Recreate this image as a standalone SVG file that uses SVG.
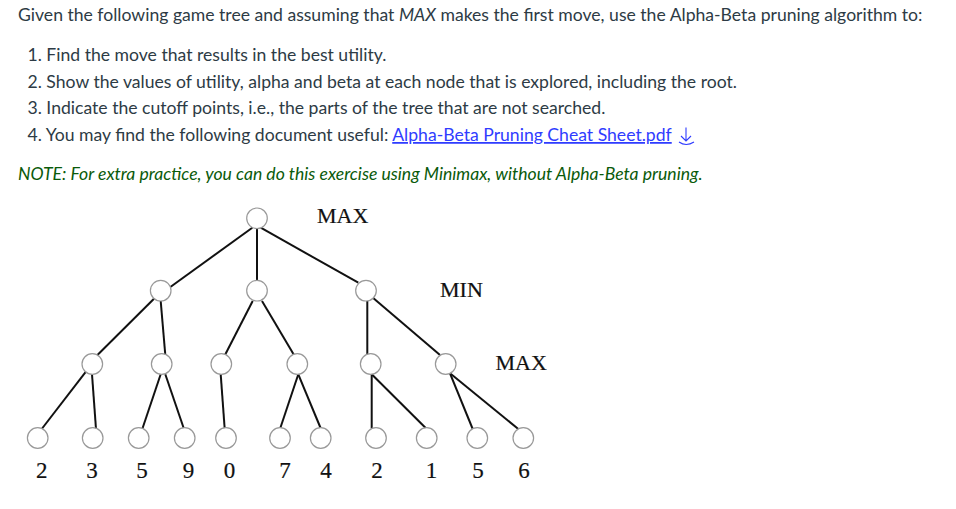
<svg xmlns="http://www.w3.org/2000/svg" width="956" height="509" viewBox="0 0 956 509">
<style>
.t{font-family:Lato,"Open Sans",sans-serif;font-size:17.6px;fill:#2d3b45}
.n{font-family:Lato,"Open Sans",sans-serif;font-size:17.6px;font-style:italic;fill:#0a5a0a}
.s{font-family:"Liberation Serif","Times New Roman",serif;font-size:22px;fill:#111;stroke:#111;stroke-width:.2}
.d{font-size:23px}
.m{text-anchor:middle}
.c line{stroke:#111;stroke-width:2}
.nd circle{fill:#fff;stroke:#999;stroke-width:1.2}
</style>
<rect width="956" height="509" fill="#fff"/>
<g id="prompt">
<text class="t" x="18" y="21">Given the following game tree and assuming that <tspan font-style="italic">MAX</tspan> makes the first move, use the Alpha-Beta pruning algorithm to:</text>
<text class="t" x="27.5" y="61">1. Find the move that results in the best utility.</text>
<text class="t" x="27.5" y="88">2. Show the values of utility, alpha and beta at each node that is explored, including the root.</text>
<text class="t" x="27.5" y="114">3. Indicate the cutoff points, i.e., the parts of the tree that are not searched.</text>
<text class="t" x="27.5" y="141">4. You may find the following document useful: <tspan fill="#2f3cff" text-decoration="underline">Alpha-Beta Pruning Cheat Sheet.pdf</tspan></text>
<path d="M686 127.500V141M681 136L686 141L691 136M679 142Q686 147 694 142" fill="none" stroke="#2f3cff" stroke-width="1.1"/>
<text class="n" x="18" y="180">NOTE: For extra practice, you can do this exercise using Minimax, without Alpha-Beta pruning.</text>
</g>
<g id="connectors" class="c">
<line x1="252.3" y1="227.7" x2="170" y2="287.3"/>
<line x1="257" y1="228.3" x2="257" y2="281.7"/>
<line x1="260.7" y1="227.7" x2="358.3" y2="282.7"/>
<line x1="156" y1="296.7" x2="96.7" y2="355.7"/>
<line x1="160.7" y1="301" x2="165.3" y2="355"/>
<line x1="252.7" y1="301" x2="225" y2="355"/>
<line x1="262" y1="301" x2="294" y2="355"/>
<line x1="367.3" y1="301" x2="367.3" y2="355"/>
<line x1="371.7" y1="296.7" x2="440" y2="355"/>
<line x1="86.7" y1="370.7" x2="41.7" y2="429"/>
<line x1="92" y1="374.3" x2="96" y2="429"/>
<line x1="160.7" y1="374.3" x2="142.3" y2="429"/>
<line x1="165.3" y1="374.3" x2="184" y2="429"/>
<line x1="220.7" y1="374.3" x2="224.7" y2="429"/>
<line x1="298.3" y1="374.3" x2="280" y2="429"/>
<line x1="298.3" y1="374.3" x2="321" y2="429"/>
<line x1="371.7" y1="374.3" x2="371.7" y2="428.3"/>
<line x1="371.7" y1="374.3" x2="426.7" y2="429"/>
<line x1="450" y1="373.3" x2="472.7" y2="429"/>
<line x1="450" y1="373.3" x2="518.3" y2="429"/>
</g>
<g id="root" class="nd"><circle cx="257" cy="218.3" r="10.3"/></g>
<g id="n1" class="nd"><circle cx="160.7" cy="290.7" r="10.3"/></g>
<g id="n2" class="nd"><circle cx="257" cy="290.7" r="10.3"/></g>
<g id="n3" class="nd"><circle cx="366" cy="290.7" r="10.3"/></g>
<g id="n11" class="nd"><circle cx="92.3" cy="364" r="10.3"/></g>
<g id="n12" class="nd"><circle cx="161.7" cy="364" r="10.3"/></g>
<g id="n21" class="nd"><circle cx="221.3" cy="364" r="10.3"/></g>
<g id="n22" class="nd"><circle cx="297.3" cy="364" r="10.3"/></g>
<g id="n31" class="nd"><circle cx="370.7" cy="364" r="10.3"/></g>
<g id="n32" class="nd"><circle cx="445.7" cy="364" r="10.3"/></g>
<g id="leaf1" class="nd"><circle cx="37.7" cy="438" r="10.3"/></g>
<g id="leaf2" class="nd"><circle cx="92.7" cy="438" r="10.3"/></g>
<g id="leaf3" class="nd"><circle cx="138.7" cy="438" r="10.3"/></g>
<g id="leaf4" class="nd"><circle cx="184.7" cy="438" r="10.3"/></g>
<g id="leaf5" class="nd"><circle cx="226" cy="438" r="10.3"/></g>
<g id="leaf6" class="nd"><circle cx="280" cy="438" r="10.3"/></g>
<g id="leaf7" class="nd"><circle cx="320.7" cy="438" r="10.3"/></g>
<g id="leaf8" class="nd"><circle cx="376" cy="438" r="10.3"/></g>
<g id="leaf9" class="nd"><circle cx="426.7" cy="438" r="10.3"/></g>
<g id="leaf10" class="nd"><circle cx="477.3" cy="438" r="10.3"/></g>
<g id="leaf11" class="nd"><circle cx="523.3" cy="438" r="10.3"/></g>
<g id="labels">
<text class="s" x="317" y="223">MAX</text>
<text class="s" x="440" y="297">MIN</text>
<text class="s" x="495.500" y="370">MAX</text>
<text class="s d m" x="41.7" y="478">2</text>
<text class="s d m" x="92" y="478">3</text>
<text class="s d m" x="142" y="478">5</text>
<text class="s d m" x="188.5" y="478">9</text>
<text class="s d m" x="229.5" y="478">0</text>
<text class="s d m" x="285" y="478">7</text>
<text class="s d m" x="326" y="478">4</text>
<text class="s d m" x="377" y="478">2</text>
<text class="s d m" x="431.5" y="478">1</text>
<text class="s d m" x="478" y="478">5</text>
<text class="s d m" x="524" y="478">6</text>
</g>
</svg>
